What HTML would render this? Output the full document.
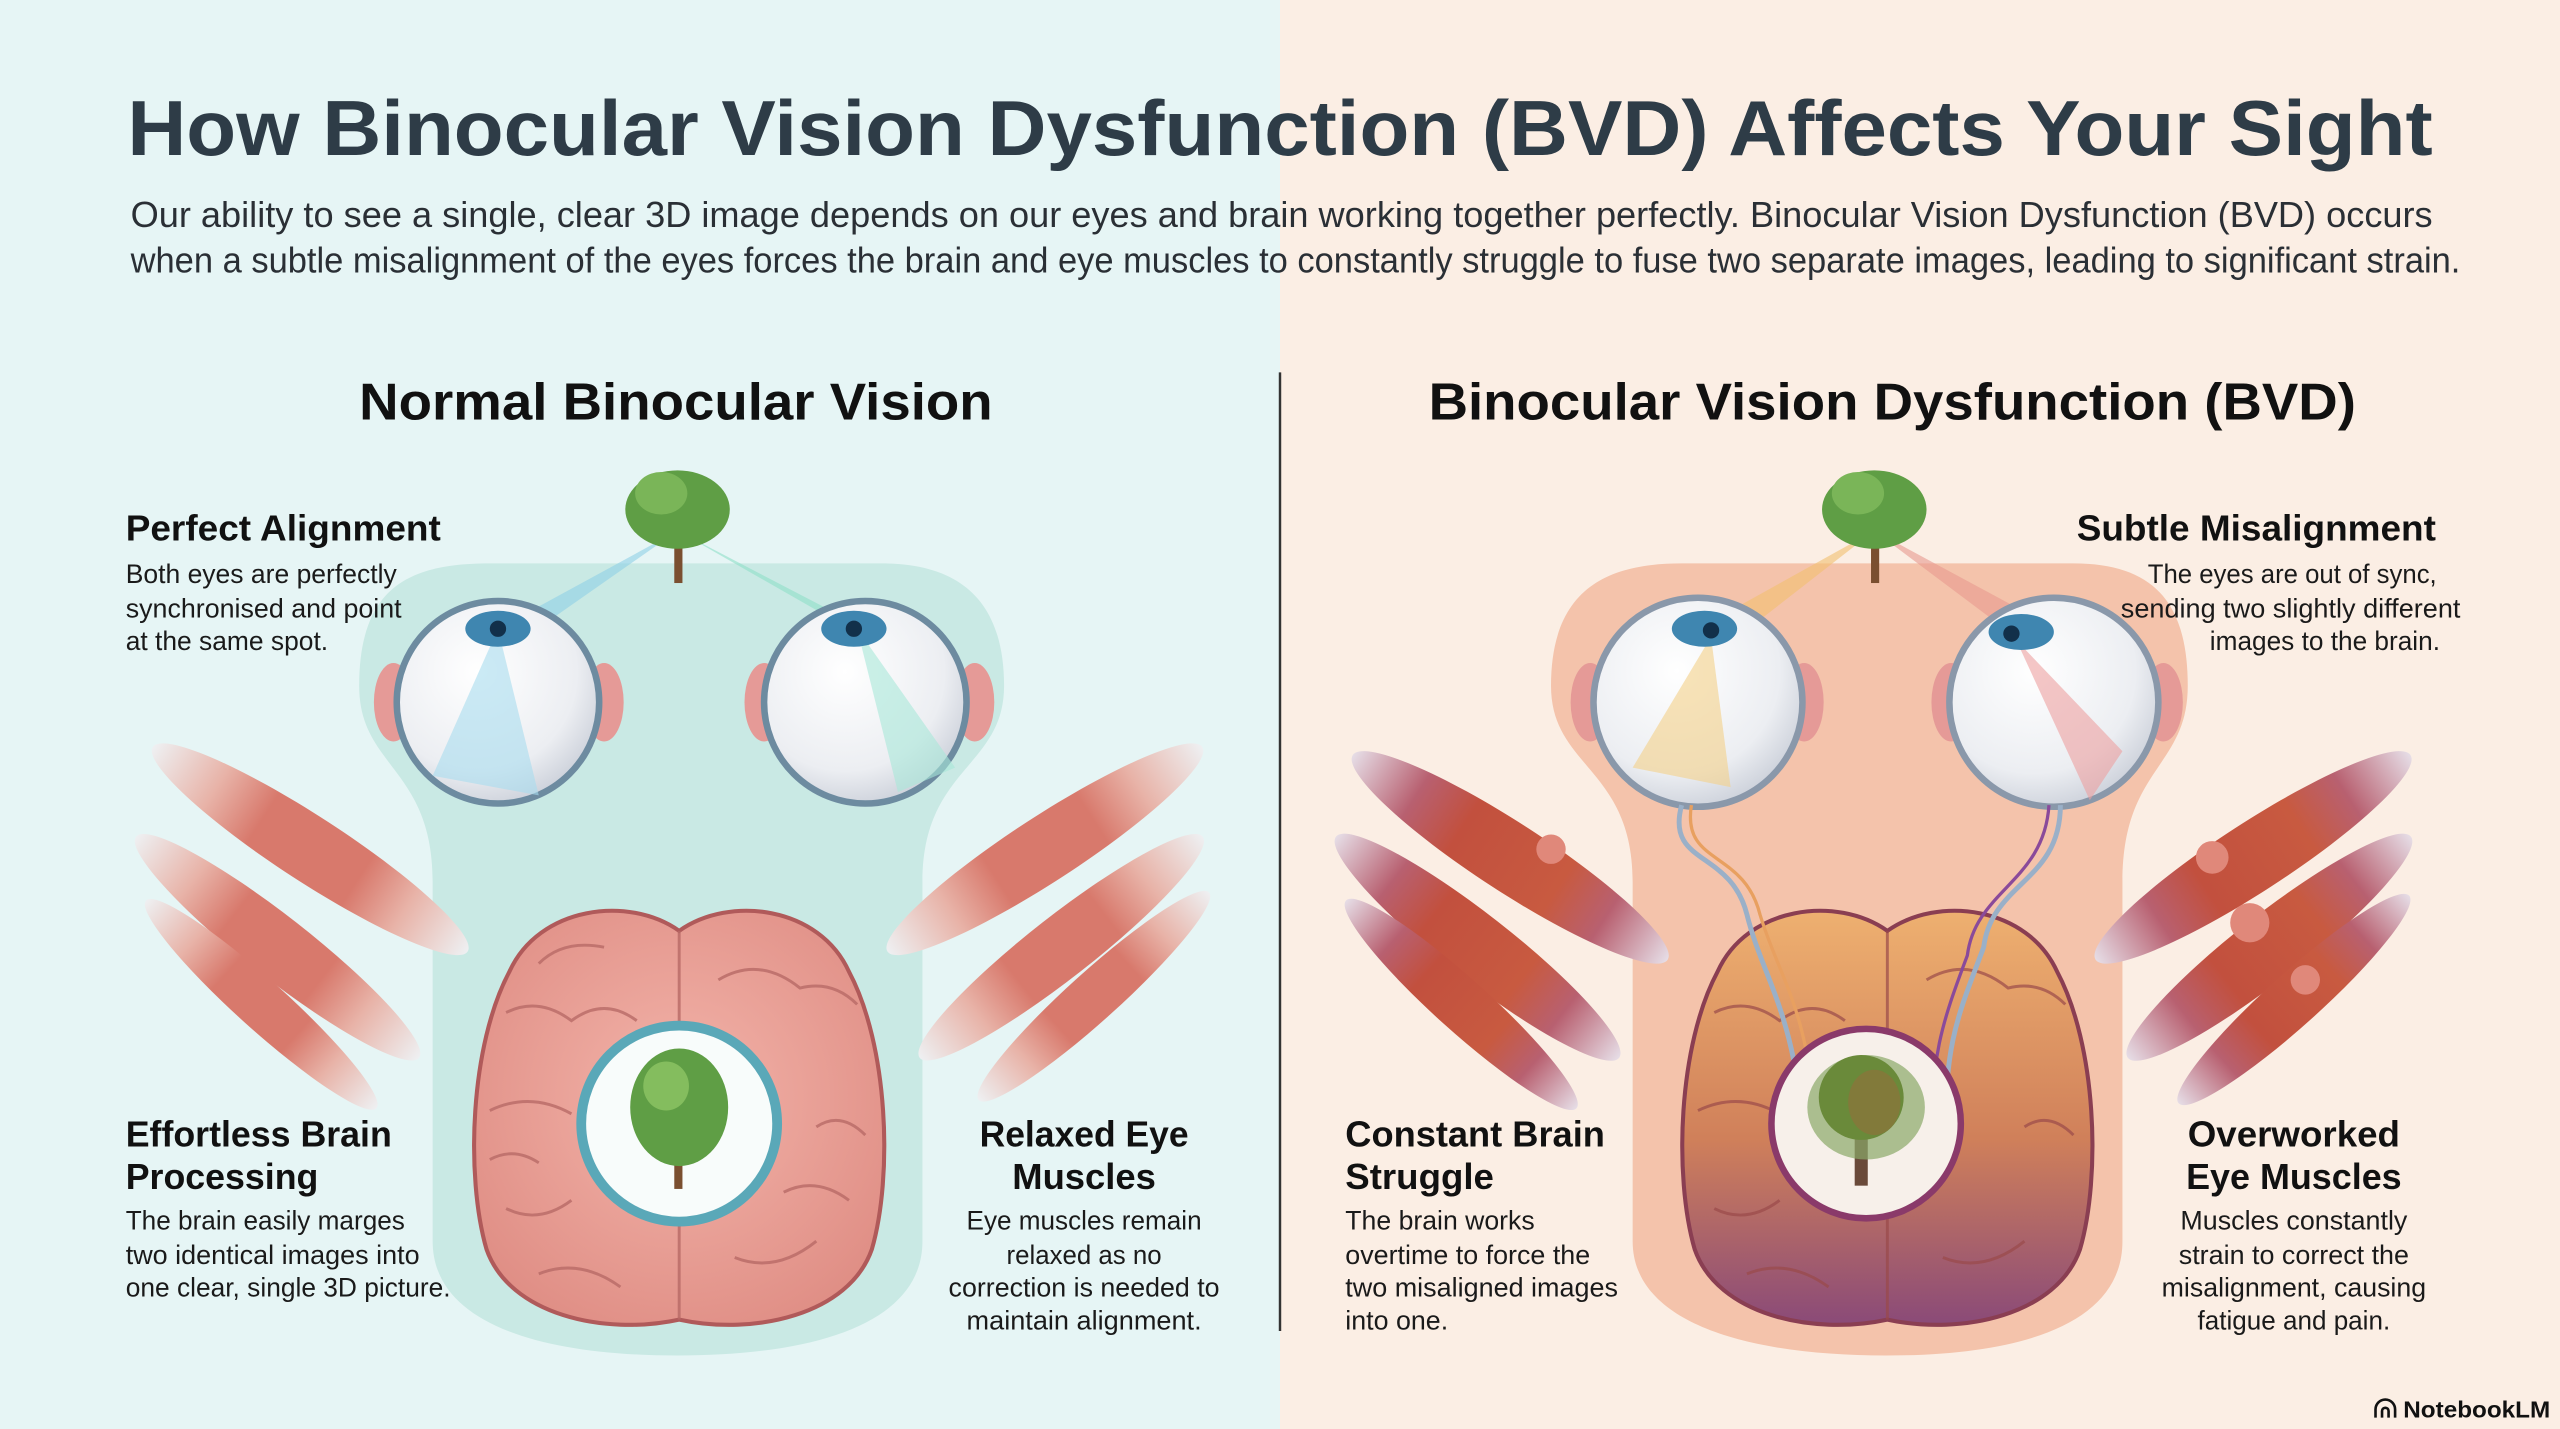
<!DOCTYPE html>
<html><head><meta charset="utf-8"><style>
html,body{margin:0;padding:0;width:2560px;height:1429px;overflow:hidden}
svg{display:block}
text{font-family:"Liberation Sans",sans-serif}
</style></head><body>
<svg width="2560" height="1429" viewBox="0 0 1568 875" preserveAspectRatio="none" xmlns="http://www.w3.org/2000/svg">
<defs>
<linearGradient id="mus" x1="0" x2="1" y1="0" y2="0">
<stop offset="0" stop-color="#eef0f2"/><stop offset="0.2" stop-color="#e8b3a8"/><stop offset="0.35" stop-color="#d8796c"/><stop offset="0.65" stop-color="#d8796c"/><stop offset="0.8" stop-color="#e8b3a8"/><stop offset="1" stop-color="#eef0f2"/>
</linearGradient>
<linearGradient id="mus2" x1="0" x2="1" y1="0" y2="0">
<stop offset="0" stop-color="#e6dde6"/><stop offset="0.2" stop-color="#b86070"/><stop offset="0.35" stop-color="#c2503e"/><stop offset="0.65" stop-color="#c85a40"/><stop offset="0.8" stop-color="#b86070"/><stop offset="1" stop-color="#e6dde6"/>
</linearGradient>
<radialGradient id="eye" cx="0.4" cy="0.35" r="0.7"><stop offset="0" stop-color="#ffffff"/><stop offset="0.7" stop-color="#eceef2"/><stop offset="1" stop-color="#c9ced8"/></radialGradient>
<radialGradient id="brL" cx="0.5" cy="0.45" r="0.6"><stop offset="0" stop-color="#f3b4aa"/><stop offset="1" stop-color="#e08f86"/></radialGradient>
<linearGradient id="brR" x1="0" x2="0" y1="0" y2="1"><stop offset="0" stop-color="#eeb070"/><stop offset="0.55" stop-color="#d0805a"/><stop offset="1" stop-color="#8a4a78"/></linearGradient>
<path id="brainShape" d="M416,570 C385,548 330,555 312,595 C288,640 285,720 298,765 C312,805 370,818 416,808 C462,818 520,805 534,765 C547,720 544,640 520,595 C502,555 447,548 416,570 Z"/>
</defs>
<rect x="0" y="0" width="784" height="875" fill="#e6f5f5"/>
<rect x="784" y="0" width="784" height="875" fill="#fbeee4"/>
<path d="M220,420 C220,360 250,345 300,345 L540,345 C590,345 615,370 615,420 C615,470 565,470 565,540 L565,760 C565,810 500,830 415,830 C330,830 265,810 265,760 L265,540 C265,470 220,470 220,420 Z" fill="#c9e9e4"/>
<path d="M950,420 C950,360 985,345 1030,345 L1270,345 C1320,345 1340,370 1340,420 C1340,470 1300,470 1300,540 L1300,760 C1300,810 1240,830 1155,830 C1070,830 1000,810 1000,760 L1000,540 C1000,470 950,470 950,420 Z" fill="#f4c3ab"/>
<text x="784" y="95" text-anchor="middle" font-size="48" font-weight="bold" fill="#2e3c47" textLength="1412" lengthAdjust="spacingAndGlyphs">How Binocular Vision Dysfunction (BVD) Affects Your Sight</text>
<text x="80" y="139" font-size="22" fill="#2a2f35" textLength="1410" lengthAdjust="spacingAndGlyphs">Our ability to see a single, clear 3D image depends on our eyes and brain working together perfectly. Binocular Vision Dysfunction (BVD) occurs</text>
<text x="80" y="167" font-size="22" fill="#2a2f35" textLength="1427" lengthAdjust="spacingAndGlyphs">when a subtle misalignment of the eyes forces the brain and eye muscles to constantly struggle to fuse two separate images, leading to significant strain.</text>
<line x1="784" y1="228" x2="784" y2="815" stroke="#333" stroke-width="1.5"/>
<text x="414" y="257" text-anchor="middle" font-size="32" font-weight="bold" fill="#111" textLength="388" lengthAdjust="spacingAndGlyphs">Normal Binocular Vision</text>
<text x="1159" y="257" text-anchor="middle" font-size="32" font-weight="bold" fill="#111" textLength="568" lengthAdjust="spacingAndGlyphs">Binocular Vision Dysfunction (BVD)</text>
<polygon points="415,325 305,385 325,388" fill="#8fd0e6" opacity="0.6"/>
<polygon points="415,325 520,385 540,390" fill="#8fe0c8" opacity="0.6"/>
<ellipse cx="241" cy="430" rx="12" ry="24" fill="#e59a97"/><ellipse cx="370" cy="430" rx="12" ry="24" fill="#e59a97"/>
<ellipse cx="468" cy="430" rx="12" ry="24" fill="#e59a97"/><ellipse cx="597" cy="430" rx="12" ry="24" fill="#e59a97"/>
<circle cx="305" cy="430" r="62" fill="url(#eye)" stroke="#6d8ba0" stroke-width="4"/>
<circle cx="530" cy="430" r="62" fill="url(#eye)" stroke="#6d8ba0" stroke-width="4"/>
<path d="M305,385 L265,475 L330,487 Z" fill="#a8dcee" opacity="0.6"/>
<path d="M525,385 L550,485 L585,470 Z" fill="#a8e8d8" opacity="0.6"/>
<ellipse cx="305" cy="385" rx="20" ry="11" fill="#3f86b0"/><circle cx="305" cy="385" r="5" fill="#12304a"/>
<ellipse cx="523" cy="385" rx="20" ry="11" fill="#3f86b0"/><circle cx="523" cy="385" r="5" fill="#12304a"/>
<rect x="413" y="325" width="5" height="32" fill="#7a4f30"/>
<ellipse cx="415" cy="312" rx="32" ry="24" fill="#5f9e45"/><ellipse cx="405" cy="302" rx="16" ry="13" fill="#7ab558"/>
<g fill="url(#mus)">
<ellipse cx="0" cy="0" rx="115" ry="20" transform="translate(190,520) rotate(33)"/>
<ellipse cx="0" cy="0" rx="110" ry="19" transform="translate(170,580) rotate(38)"/>
<ellipse cx="0" cy="0" rx="95" ry="15" transform="translate(160,615) rotate(42)"/>
<ellipse cx="0" cy="0" rx="115" ry="20" transform="translate(640,520) rotate(-33)"/>
<ellipse cx="0" cy="0" rx="110" ry="19" transform="translate(650,580) rotate(-38)"/>
<ellipse cx="0" cy="0" rx="95" ry="15" transform="translate(670,610) rotate(-42)"/>
</g>
<use href="#brainShape" fill="url(#brL)" stroke="#b05a5a" stroke-width="2.5"/>
<g fill="none" stroke="#b86a66" stroke-width="1.8" opacity="0.8">
<line x1="416" y1="570" x2="416" y2="808"/>
<path d="M310,620 q20,-10 40,5 q20,-15 40,0 M300,680 q25,-12 50,2 M310,740 q20,10 40,-5 M330,780 q25,-10 50,8 M440,600 q25,-15 50,5 q20,-5 35,10 M450,770 q25,10 50,-10 M500,690 q15,-10 30,5 M330,590 q15,-15 40,-10 M480,730 q20,-10 40,5 M300,710 q15,-8 30,2"/>
</g>
<circle cx="416" cy="688" r="60" fill="#f8fcfb" stroke="#5aa8b8" stroke-width="6"/>
<rect x="413" y="690" width="5" height="38" fill="#7a4f30"/>
<ellipse cx="416" cy="678" rx="30" ry="36" fill="#5f9e45"/><ellipse cx="408" cy="665" rx="14" ry="15" fill="#84bd5e"/>
<polygon points="1148,325 1040,385 1062,392" fill="#f2c070" opacity="0.6"/>
<polygon points="1148,325 1232,388 1250,380" fill="#e89a90" opacity="0.6"/>
<ellipse cx="974" cy="430" rx="12" ry="24" fill="#e59a97"/><ellipse cx="1105" cy="430" rx="12" ry="24" fill="#e59a97"/>
<ellipse cx="1195" cy="430" rx="12" ry="24" fill="#e59a97"/><ellipse cx="1325" cy="430" rx="12" ry="24" fill="#e59a97"/>
<circle cx="1040" cy="430" r="64" fill="url(#eye)" stroke="#8a98aa" stroke-width="4"/>
<circle cx="1258" cy="430" r="64" fill="url(#eye)" stroke="#8a98aa" stroke-width="4"/>
<path d="M1048,390 L1000,470 L1060,482 Z" fill="#f4d088" opacity="0.6"/>
<path d="M1235,392 L1300,460 L1280,490 Z" fill="#eca0a0" opacity="0.6"/>
<ellipse cx="1044" cy="385" rx="20" ry="11" fill="#3f86b0"/><circle cx="1048" cy="386" r="5" fill="#12304a"/>
<ellipse cx="1238" cy="387" rx="20" ry="11" fill="#3f86b0"/><circle cx="1232" cy="388" r="5" fill="#12304a"/>
<rect x="1146" y="325" width="5" height="32" fill="#7a4f30"/>
<ellipse cx="1148" cy="312" rx="32" ry="24" fill="#5f9e45"/><ellipse cx="1138" cy="302" rx="16" ry="13" fill="#7ab558"/>
<g fill="url(#mus2)">
<ellipse cx="0" cy="0" rx="115" ry="21" transform="translate(925,525) rotate(33)"/>
<ellipse cx="0" cy="0" rx="110" ry="20" transform="translate(905,580) rotate(38)"/>
<ellipse cx="0" cy="0" rx="95" ry="16" transform="translate(895,615) rotate(42)"/>
<ellipse cx="0" cy="0" rx="115" ry="21" transform="translate(1380,525) rotate(-33)"/>
<ellipse cx="0" cy="0" rx="110" ry="20" transform="translate(1390,580) rotate(-38)"/>
<ellipse cx="0" cy="0" rx="95" ry="16" transform="translate(1405,612) rotate(-42)"/>
</g>
<g fill="#e0887a"><circle cx="950" cy="520" r="9"/><circle cx="1355" cy="525" r="10"/><circle cx="1378" cy="565" r="12"/><circle cx="1412" cy="600" r="9"/></g>
<use href="#brainShape" transform="translate(740,0)" fill="url(#brR)" stroke="#8a3e52" stroke-width="2.5"/>
<g fill="none" stroke="#9a4a4a" stroke-width="1.8" opacity="0.7">
<line x1="1156" y1="570" x2="1156" y2="808"/>
<path d="M1050,620 q20,-10 40,5 q20,-15 40,0 M1040,680 q25,-12 50,2 M1050,740 q20,10 40,-5 M1070,780 q25,-10 50,8 M1180,600 q25,-15 50,5 q20,-5 35,10 M1190,770 q25,10 50,-10 M1240,690 q15,-10 30,5"/>
</g>
<g fill="none" stroke-width="3">
<path d="M1030,493 C1020,530 1060,520 1070,560 C1080,600 1100,620 1105,700" stroke="#9ab0c8"/>
<path d="M1036,493 C1030,530 1068,520 1078,560 C1090,600 1110,620 1112,700" stroke="#e8a060" stroke-width="2"/>
<path d="M1262,493 C1262,540 1220,540 1215,580 C1200,620 1190,640 1192,700" stroke="#9ab0c8"/>
<path d="M1255,493 C1252,540 1210,545 1205,585 C1192,620 1180,650 1185,700" stroke="#8a4a9a" stroke-width="2"/>
</g>
<circle cx="1143" cy="688" r="58" fill="#f7f0ea" stroke="#8a3a6a" stroke-width="4"/>
<rect x="1136" y="690" width="8" height="36" fill="#6a4a3a"/>
<ellipse cx="1143" cy="678" rx="36" ry="32" fill="#8aa868" opacity="0.7"/><ellipse cx="1140" cy="672" rx="26" ry="26" fill="#6a8a3a"/><ellipse cx="1148" cy="675" rx="16" ry="20" fill="#9a6a3a" opacity="0.5"/>
<g fill="#111">
<text x="77" y="331" font-size="22" font-weight="bold" textLength="193" lengthAdjust="spacingAndGlyphs">Perfect Alignment</text>
<g font-size="16.5" fill="#1a1a1a">
<text x="77" y="357" textLength="166" lengthAdjust="spacingAndGlyphs">Both eyes are perfectly</text>
<text x="77" y="378" textLength="169" lengthAdjust="spacingAndGlyphs">synchronised and point</text>
<text x="77" y="398" textLength="124" lengthAdjust="spacingAndGlyphs">at the same spot.</text>
</g>
<text x="1492" y="331" text-anchor="end" font-size="22" font-weight="bold" textLength="220" lengthAdjust="spacingAndGlyphs">Subtle Misalignment</text>
<g font-size="16.5" fill="#1a1a1a" text-anchor="middle">
<text x="1404" y="357" textLength="177" lengthAdjust="spacingAndGlyphs">The eyes are out of sync,</text>
<text x="1403" y="378" textLength="208" lengthAdjust="spacingAndGlyphs">sending two slightly different</text>
<text x="1424" y="398" textLength="141" lengthAdjust="spacingAndGlyphs">images to the brain.</text>
</g>
<g font-size="22" font-weight="bold">
<text x="77" y="702" textLength="163" lengthAdjust="spacingAndGlyphs">Effortless Brain</text>
<text x="77" y="728" textLength="118" lengthAdjust="spacingAndGlyphs">Processing</text>
<text x="664" y="702" text-anchor="middle" textLength="128" lengthAdjust="spacingAndGlyphs">Relaxed Eye</text>
<text x="664" y="728" text-anchor="middle" textLength="88" lengthAdjust="spacingAndGlyphs">Muscles</text>
<text x="824" y="702" textLength="159" lengthAdjust="spacingAndGlyphs">Constant Brain</text>
<text x="824" y="728" textLength="91" lengthAdjust="spacingAndGlyphs">Struggle</text>
<text x="1405" y="702" text-anchor="middle" textLength="130" lengthAdjust="spacingAndGlyphs">Overworked</text>
<text x="1405" y="728" text-anchor="middle" textLength="132" lengthAdjust="spacingAndGlyphs">Eye Muscles</text>
</g>
<g font-size="16.5" fill="#1a1a1a">
<text x="77" y="753" textLength="171" lengthAdjust="spacingAndGlyphs">The brain easily marges</text>
<text x="77" y="774" textLength="180" lengthAdjust="spacingAndGlyphs">two identical images into</text>
<text x="77" y="794" textLength="199" lengthAdjust="spacingAndGlyphs">one clear, single 3D picture.</text>
<text x="824" y="753" textLength="116" lengthAdjust="spacingAndGlyphs">The brain works</text>
<text x="824" y="774" textLength="150" lengthAdjust="spacingAndGlyphs">overtime to force the</text>
<text x="824" y="794" textLength="167" lengthAdjust="spacingAndGlyphs">two misaligned images</text>
<text x="824" y="814" textLength="63" lengthAdjust="spacingAndGlyphs">into one.</text>
</g>
<g font-size="16.5" fill="#1a1a1a" text-anchor="middle">
<text x="664" y="753" textLength="144" lengthAdjust="spacingAndGlyphs">Eye muscles remain</text>
<text x="664" y="774" textLength="95" lengthAdjust="spacingAndGlyphs">relaxed as no</text>
<text x="664" y="794" textLength="166" lengthAdjust="spacingAndGlyphs">correction is needed to</text>
<text x="664" y="814" textLength="144" lengthAdjust="spacingAndGlyphs">maintain alignment.</text>
<text x="1405" y="753" textLength="139" lengthAdjust="spacingAndGlyphs">Muscles constantly</text>
<text x="1405" y="774" textLength="141" lengthAdjust="spacingAndGlyphs">strain to correct the</text>
<text x="1405" y="794" textLength="162" lengthAdjust="spacingAndGlyphs">misalignment, causing</text>
<text x="1405" y="814" textLength="118" lengthAdjust="spacingAndGlyphs">fatigue and pain.</text>
</g>
<path d="M1455,868 v-5 a6,6 0 0 1 12,0 v5 M1459,868 v-4 a2,2 0 0 1 4,0 v4" fill="none" stroke="#111" stroke-width="1.6"/>
<text x="1472" y="868" font-size="14" font-weight="bold" textLength="90" lengthAdjust="spacingAndGlyphs">NotebookLM</text>
</g>
</svg>
</body></html>
